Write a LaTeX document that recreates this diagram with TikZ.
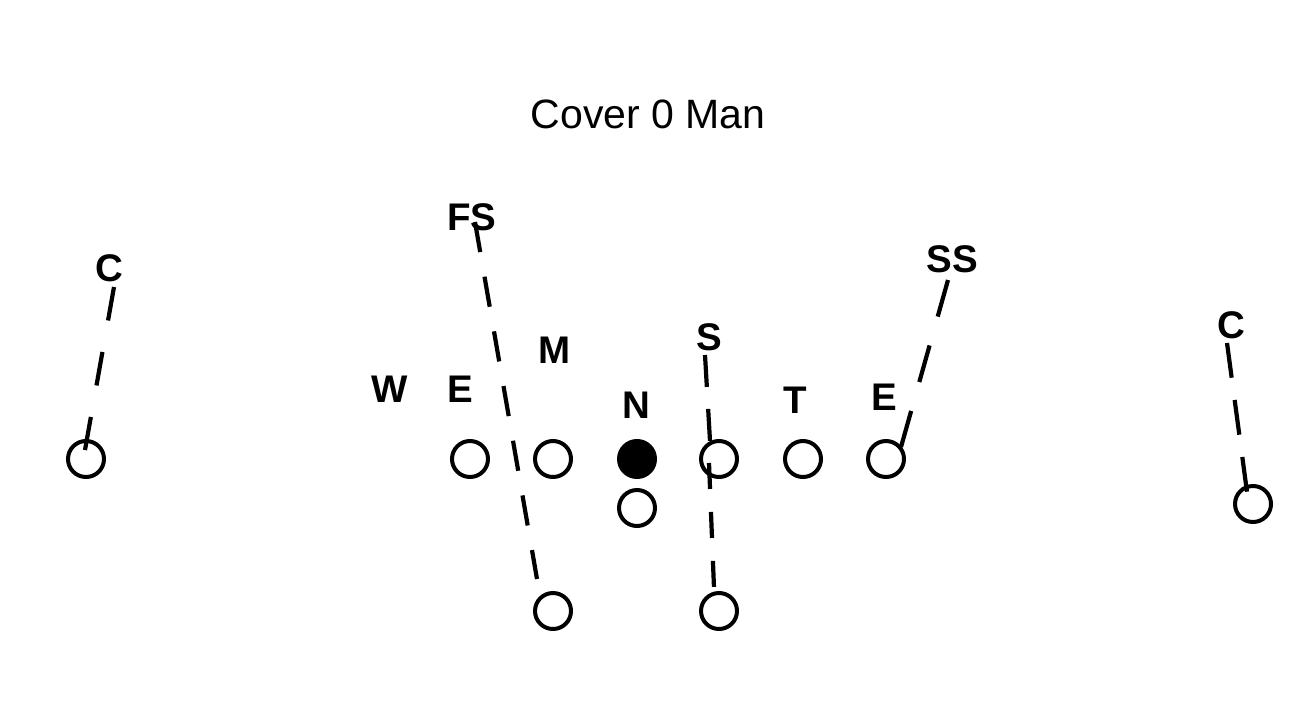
\documentclass[tikz,border=0pt]{standalone}
\usepackage{fontspec}
\setmainfont{Liberation Sans}
\begin{document}
\begin{tikzpicture}[x=1pt,y=-1pt,
  player/.style={circle,draw,line width=4pt,minimum size=36pt,inner sep=0pt},
  filledplayer/.style={player,fill=black},
  lbl/.style={font=\fontsize{38.5}{42}\selectfont\bfseries,anchor=base,inner sep=0pt},
  cov/.style={line width=4.2pt}]
\useasboundingbox (0,0) rectangle (1308,712);
% title
\node[font=\fontsize{41}{48}\selectfont,anchor=base,inner sep=0pt] (title) at (648,128) {Cover 0 Man};
% defender labels
\node[lbl] (cl) at (109,281) {C};
\node[lbl] (fs) at (472,230) {FS};
\node[lbl] (w)  at (390,402) {W};
\node[lbl] (el) at (460,402) {E};
\node[lbl] (m)  at (555,363) {M};
\node[lbl] (n)  at (636,418) {N};
\node[lbl] (s)  at (709,350) {S};
\node[lbl] (t)  at (795,413) {T};
\node[lbl] (er) at (884,410) {E};
\node[lbl] (ss) at (952,272) {SS};
\node[lbl] (cr) at (1231,338) {C};
% offense
\node[player] (p1) at (86,459) {};
\node[player] (p2) at (470,459) {};
\node[player] (p3) at (553,459) {};
\node[filledplayer] (p4) at (637,459) {};
\node[player] (p5) at (719,459) {};
\node[player] (p6) at (803,459) {};
\node[player] (p7) at (886,459) {};
\node[player] (p8) at (637,508) {};
\node[player] (p9) at (553,611) {};
\node[player] (p10) at (719,611) {};
\node[player] (p11) at (1253,504) {};
% coverage endpoints
\coordinate (cl-a) at (114,287);
\coordinate (cl-b) at (85,450);
\coordinate (fs-a) at (475,222);
\coordinate (fs-b) at (537,579);
\coordinate (s-a) at (705,355);
\coordinate (s-b) at (710,441);
\coordinate (s-c) at (709,463);
\coordinate (s-d) at (714,588);
\coordinate (ss-a) at (948,280);
\coordinate (ss-b) at (901,447);
\coordinate (cr-a) at (1227,343);
\coordinate (cr-b) at (1247,492);
% coverage lines
\draw[cov,dash pattern=on 34pt off 32pt] (cl-a) -- (cl-b);
\draw[cov,dash pattern=on 30.5pt off 25pt] (fs-a) -- (fs-b);
\draw[cov,dash pattern=on 32pt off 22pt] (s-a) -- (s-b);
\draw[cov,dash pattern=on 26pt off 23pt] (s-c) -- (s-d);
\draw[cov,dash pattern=on 38pt off 30pt] (ss-a) -- (ss-b);
\draw[cov,dash pattern=on 35pt off 22.5pt] (cr-a) -- (cr-b);
\end{tikzpicture}
\end{document}
